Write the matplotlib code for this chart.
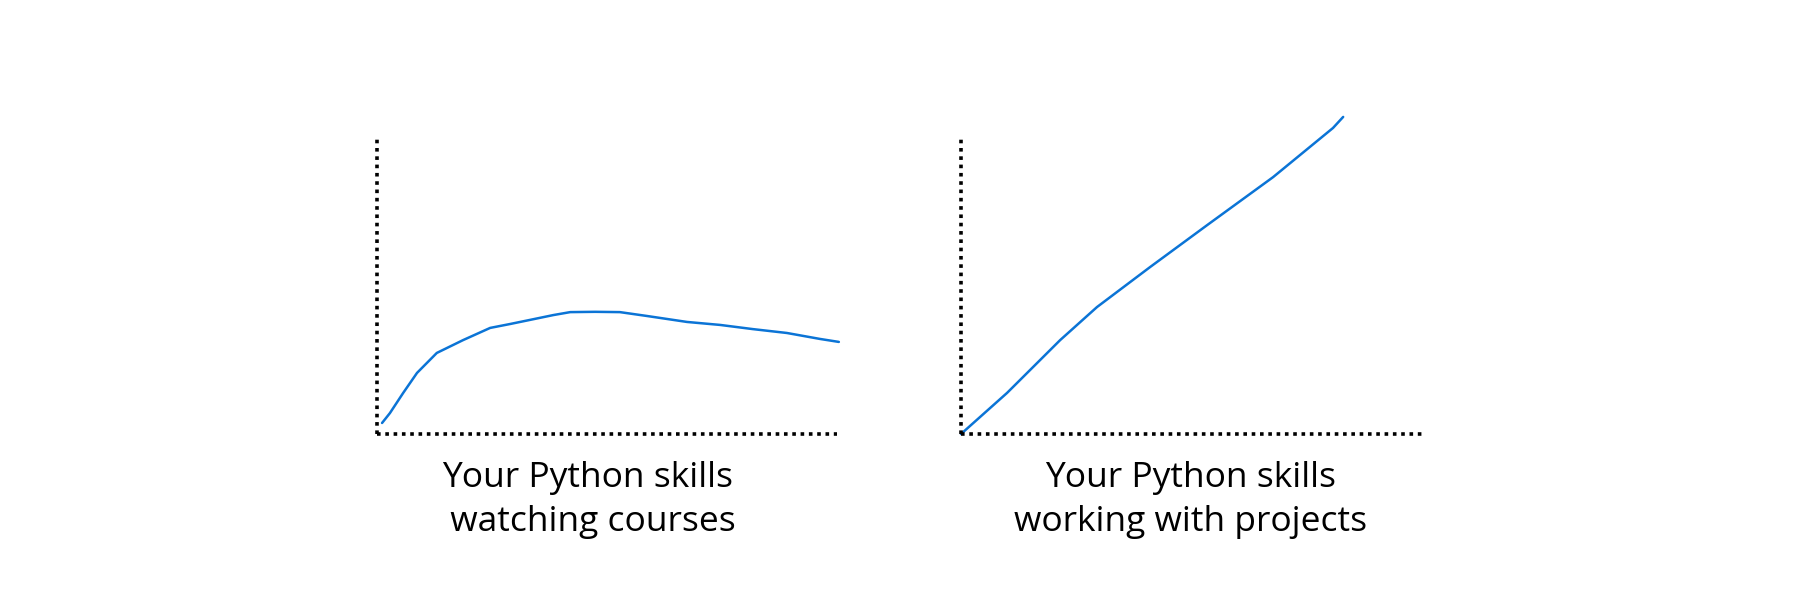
import matplotlib
matplotlib.use("Agg")
import matplotlib.pyplot as plt

# hand drawn curves (x and y in 0..100 of each axes box)
courses_x = [1.1, 2.8, 5.7, 8.7, 13.0, 18.7, 24.6, 28.9, 33.3, 38.3, 42.0, 47.4, 52.8,
             58.7, 67.4, 74.6, 81.7, 89.1, 96.3, 100.4]
courses_y = [3.7, 7.0, 13.8, 20.5, 27.2, 31.5, 35.6, 36.9, 38.3, 39.9, 40.9, 41.0, 40.9,
             39.6, 37.6, 36.6, 35.2, 33.9, 31.9, 30.9]

projects_x = [0.0, 10.0, 21.5, 29.5, 41.0, 53.4, 67.7, 80.7, 82.9]
projects_y = [0.0, 13.8, 31.5, 42.6, 56.0, 70.1, 86.2, 102.7, 106.4]

labels = ["Your Python skills\n watching courses", "Your Python skills\nworking with projects"]

blue = "#0b74d6"

fig = plt.figure(figsize=(18, 6), dpi=100)
ax1 = fig.add_axes([377 / 1800, 166 / 600, 460 / 1800, 298 / 600])
ax2 = fig.add_axes([961 / 1800, 166 / 600, 461 / 1800, 298 / 600])

for ax, xs, ys in [(ax1, courses_x, courses_y), (ax2, projects_x, projects_y)]:
    ax.plot(xs, ys, color=blue, lw=1.8, clip_on=False, solid_capstyle="round",
            solid_joinstyle="round")
    ax.set_xlim(0, 100)
    ax.set_ylim(0, 100)
    ax.set_xticks([])
    ax.set_yticks([])
    ax.spines["top"].set_visible(False)
    ax.spines["right"].set_visible(False)
    for s in ["left", "bottom"]:
        ax.spines[s].set_linewidth(2.6)
        ax.spines[s].set_linestyle((0, (1, 1.3)))
        ax.spines[s].set_capstyle("butt")

fig.text(588 / 1800, 1 - 461 / 600, labels[0], ha="center", va="top",
         fontsize=25.5, family="Open Sans", linespacing=1.4)
fig.text(1191 / 1800, 1 - 461 / 600, labels[1], ha="center", va="top",
         fontsize=25.5, family="Open Sans", linespacing=1.4)

fig.savefig("out.png", dpi=100, facecolor="white")
